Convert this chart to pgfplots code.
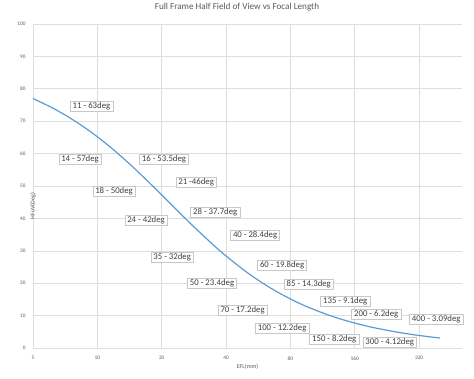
\documentclass[border=0pt]{standalone}
\usepackage{fontspec}
\setmainfont{Carlito}
\usepackage{pgfplots}
\pgfplotsset{compat=1.18}
\definecolor{curve}{RGB}{91,155,213}
\definecolor{txt}{RGB}{89,89,89}
\definecolor{ltxt}{RGB}{64,64,64}
\definecolor{gridc}{RGB}{222,222,222}
\definecolor{boxc}{RGB}{200,200,200}
\begin{document}
\begin{tikzpicture}
\path[use as bounding box] (-33bp,-31bp) rectangle (441bp,348bp);
\begin{axis}[at={(0,0)}, anchor=south west, scale only axis,
  width=429bp, height=324bp,
  xmode=log, log basis x=2, xmin=5, xmax=508, ymin=0, ymax=100,
  xtick={5,10,20,40,80,160,320}, xticklabels={5,10,20,40,80,160,320},
  ytick={0,10,...,100},
  grid=major, major grid style={gridc, line width=0.6pt},
  axis line style={draw=none}, major tick length=0,
  tick label style={font=\fontsize{5.3}{6}\selectfont, text=txt},
  /pgf/number format/assume math mode=true,
  yticklabel style={xshift=-4bp},
  xticklabel style={yshift=-5bp},
  title={Full Frame Half Field of View vs Focal Length},
  title style={font=\fontsize{9.2}{10}\selectfont, text=txt, at={(0.4755,1)}, yshift=11bp, anchor=center},
  xlabel={EFL(mm)}, ylabel={HFoV(Deg)},
  label style={font=\fontsize{6}{7}\selectfont, text=txt},
  xlabel style={at={(axis description cs:0.5,0)}, yshift=-19bp, anchor=center},
  ylabel style={at={(axis description cs:0,0.5)}, xshift=-20bp, anchor=center},
  clip=false,
]
\addplot[curve, line width=1.2bp, smooth] table {
x y
5 76.98
6 74.50
7 72.07
8 69.70
9 67.41
10 65.19
11 63.05
12 60.98
14 57.09
16 53.51
18 50.23
21 45.85
24 42.03
28 37.68
35 31.72
40 28.40
50 23.39
60 19.83
70 17.17
85 14.28
100 12.21
120 10.22
135 9.10
150 8.21
170 7.25
200 6.17
250 4.95
300 4.12
350 3.54
400 3.09
};
\addplot[draw=none, mark=none, nodes near coords, point meta=explicit symbolic,
  nodes near coords style={anchor=center, draw=boxc, fill=white, text=ltxt,
  font=\fontsize{8.8}{10}\selectfont, inner xsep=2.5bp, inner ysep=1.3bp, line width=0.5pt}]
  table[col sep=comma, meta=label] {
x,y,label
9.39,74.7,11 - 63deg
8.30,58.2,14 - 57deg
20.5,58.3,16 - 53.5deg
11.97,48.3,18 - 50deg
28.98,51.2,21 -46deg
16.9,39.5,24 - 42deg
35.6,41.8,28 - 37.7deg
54.7,34.9,40 - 28.4deg
22.4,27.9,35 - 32deg
34.4,19.9,50 - 23.4deg
47.8,11.6,70 - 17.2deg
73.2,25.6,60 - 19.8deg
97.5,19.75,85 - 14.3deg
144.4,14.35,135 - 9.1deg
201.7,10.3,200 - 6.2deg
385,8.95,400 - 3.09deg
73.2,6.0,100 - 12.2deg
128.3,2.8,150 - 8.2deg
233.3,1.7,300 - 4.12deg
};
\end{axis}
\end{tikzpicture}
\end{document}
